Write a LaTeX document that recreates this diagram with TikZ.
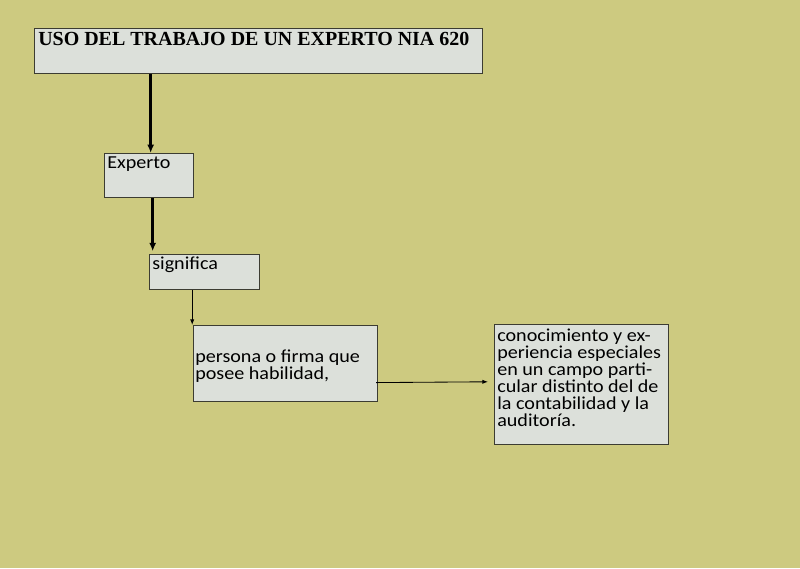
\documentclass[tikz,border=0pt]{standalone}
\usepackage{fontspec}
\setmainfont{Carlito}[FakeStretch=1.1]
\newfontfamily\titlefont{Liberation Serif}
\usetikzlibrary{arrows.meta}
\definecolor{fondo}{RGB}{205,202,128}
\definecolor{caja}{RGB}{220,224,218}
\definecolor{borde}{RGB}{60,60,50}

\begin{document}
\begin{tikzpicture}[x=0.025cm,y=-0.025cm,
		box/.style={draw=borde,fill=caja,line width=0.8pt,anchor=north west,inner sep=0pt},
		txt/.style={anchor=north west,inner sep=0pt,align=left,font=\fontsize{13}{12.1}\selectfont},
		gruesa/.style={line width=1.8pt,-{Latex[length=6pt,width=5pt]}},
		fina/.style={line width=0.6pt,-{Latex[length=4pt,width=3pt]}}]
		%\useasboundingbox
		\fill[fondo] (0,0) rectangle (800,568);
		% cajas
		\node[box,minimum width=11.2cm,minimum height=1.125cm] (uso) at (34,28) {};
		\node[box,minimum width=2.225cm,minimum height=1.1cm] (exp) at (104,153) {};
		\node[box,minimum width=2.75cm,minimum height=0.875cm] (sig) at (149,254) {};
		\node[box,minimum width=4.6cm,minimum height=1.9cm] (per) at (193,325) {};
		\node[box,minimum width=4.35cm,minimum height=3cm] (con) at (494,324) {};
		% textos
		\node[txt,font=\titlefont\bfseries\fontsize{14.2}{15}\selectfont] (usoT) at (38,32) {USO DEL TRABAJO DE UN EXPERTO NIA 620};
		\node[txt] (expT) at (107,156) {Experto};
		\node[txt] (sigT) at (152,257) {significa};
		\node[txt] (perT) at (195,350) {persona o firma que\\posee habilidad,};
		\node[txt] (conT) at (497,329) {conocimiento y ex-\\periencia especiales\\en un campo parti-\\cular distinto del de\\la contabilidad y la\\auditoría.};
		% flechas
		\draw[gruesa] ([xshift=0.04cm]exp.north |- uso.south) -- ([xshift=0.04cm]exp.north);
		\draw[gruesa] ([xshift=0.09cm]exp.south) -- ([xshift=0.09cm,yshift=0.07cm]exp.south |- sig.north);
		\draw[fina] ([xshift=-0.02cm]per.north west |- sig.south) -- ([xshift=-0.02cm]per.north west);
		\draw[fina] ([shift={(-0.05cm,-0.475cm)}]per.east) -- ([shift={(-0.15cm,0.07cm)}]con.west);
\end{tikzpicture}
\end{document}
